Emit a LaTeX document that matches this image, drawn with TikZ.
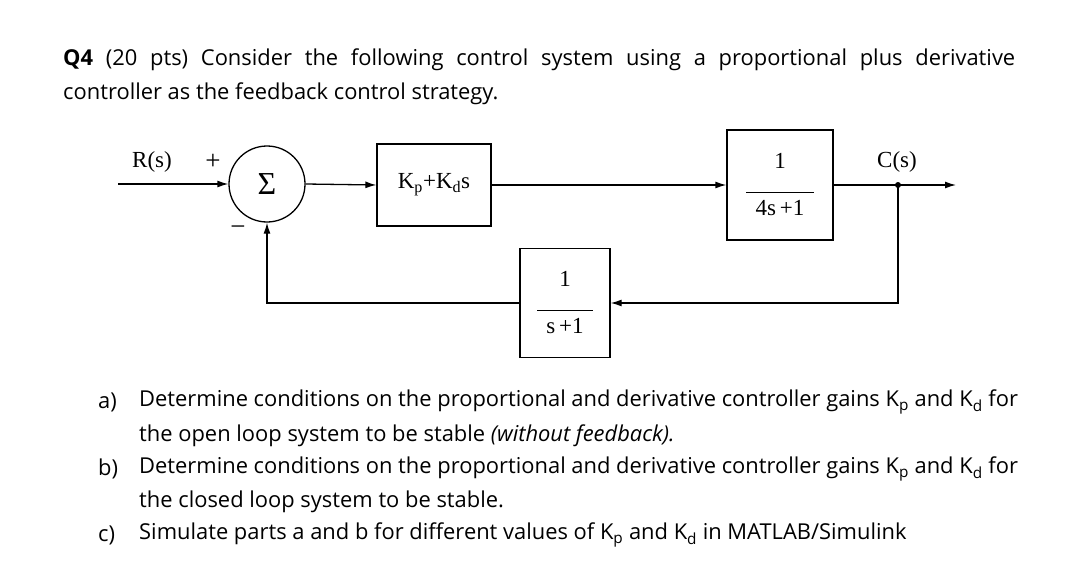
\documentclass[tikz,border=0pt]{standalone}
\usepackage{fontspec}
\setmainfont{Open Sans}
\newfontfamily\tms{Liberation Serif}
\usetikzlibrary{arrows.meta}
\begin{document}
\begin{tikzpicture}[x=1pt,y=-1pt,
  blk/.style={draw,line width=1.3pt,inner sep=0pt,font=\tms\fontsize{23}{26}\selectfont},
  sig/.style={line width=1.3pt,-{Latex[length=11pt,width=7pt]}},
  txt/.style={anchor=west,inner sep=0pt,font=\fontsize{21.9}{26}\selectfont},
  lbl/.style={inner sep=0pt,font=\tms\fontsize{23}{26}\selectfont}]
\useasboundingbox (0,0) rectangle (1068,578);
\node[txt] (t1) at (63,60) {\makebox[952pt][s]{\textbf{Q4} (20 pts) Consider the following control system using a proportional plus derivative}};
\node[txt] (t2) at (63,94) {controller as the feedback control strategy.};

\coordinate (in) at (118,184);
\node[blk,circle,minimum size=76pt,font=\tms\fontsize{32}{32}\selectfont] (sum) at (267,184) {Σ};
\node[blk,minimum width=114pt,minimum height=82pt] (c) at (434,185) {K\textsubscript{p}+K\textsubscript{d}s};
\node[blk,minimum width=106pt,minimum height=110pt,align=center] (g) at (780,185) {1\\[-2pt]\rule{68pt}{0.9pt}\\[-3pt]4s\,+1};
\node[blk,minimum width=90pt,minimum height=109pt,align=center] (h) at (565,303) {1\\[-2pt]\rule{56pt}{0.9pt}\\[-3pt]s\,+1};
\coordinate (out) at (956,185);
\coordinate (br) at (898,185);
\fill (br) circle (3pt);
\draw[sig] (in) -- (sum.west);
\draw[sig] (sum.east) -- (c.west);
\draw[sig] (c.east) -- (g.west);
\draw[sig] (g.east) -- (out);
\draw[sig] (br) |- (h.east);
\draw[sig] (h.west) -| (sum.south);
\node[lbl] (R) at (152,162) {R(s)};
\node[lbl,font=\tms\fontsize{27}{27}\selectfont] (p) at (213,162) {+};
\node[lbl,font=\tms\fontsize{27}{27}\selectfont] (m) at (238,231) {\textminus};
\node[lbl] (C) at (897,162) {C(s)};

\node[txt] (a) at (98,402) {a)};
\node[txt] (a1) at (139,402) {Determine conditions on the proportional and derivative controller gains K\textsubscript{p} and K\textsubscript{d} for};
\node[txt] (a2) at (139,436) {the open loop system to be stable \textit{(without feedback).}};
\node[txt] (b) at (98,469) {b)};
\node[txt] (b1) at (139,469) {Determine conditions on the proportional and derivative controller gains K\textsubscript{p} and K\textsubscript{d} for};
\node[txt] (b2) at (139,502) {the closed loop system to be stable.};
\node[txt] (cc) at (98,535) {c)};
\node[txt] (c1) at (139,535) {Simulate parts a and b for different values of K\textsubscript{p} and K\textsubscript{d} in MATLAB/Simulink};
\end{tikzpicture}
\end{document}
